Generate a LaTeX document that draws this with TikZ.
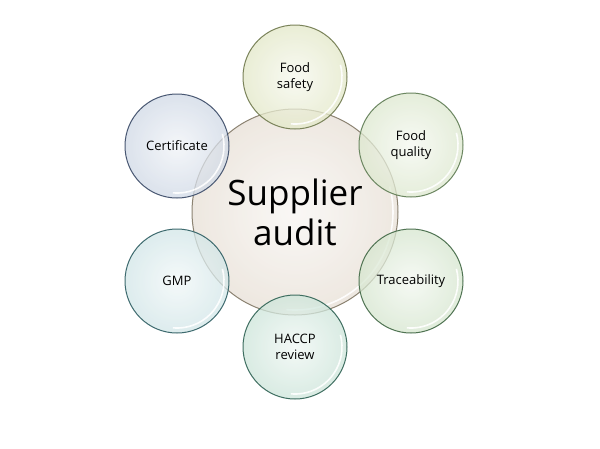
\documentclass[tikz,border=0pt]{standalone}
\usepackage{fontspec}
\setmainfont{Open Sans}

\definecolor{auditfill}{HTML}{E8E0D6}
\definecolor{auditline}{HTML}{8C8372}
\definecolor{safetyfill}{HTML}{E3E8C8}
\definecolor{safetyline}{HTML}{7A835A}
\definecolor{qualityfill}{HTML}{DDE8CF}
\definecolor{qualityline}{HTML}{6B8660}
\definecolor{tracefill}{HTML}{D6E6CF}
\definecolor{traceline}{HTML}{4F7352}
\definecolor{haccpfill}{HTML}{CDE5DA}
\definecolor{haccpline}{HTML}{3E6E60}
\definecolor{gmpfill}{HTML}{D2E6E8}
\definecolor{gmpline}{HTML}{3D6A6E}
\definecolor{certfill}{HTML}{D0D9E6}
\definecolor{certline}{HTML}{485772}

\begin{document}
\begin{tikzpicture}[x=1pt, y=-1pt,
  glint/.style={path picture={\draw[white, line width=1.6pt, opacity=0.9]
      (path picture bounding box.center) ++(-95:#1)
      arc[start angle=-95, end angle=15, radius=#1];}},
  bubble/.style={circle, draw=#1line, line width=1pt, minimum size=104pt,
    inner sep=0pt, align=center, font=\fontsize{13}{16}\selectfont,
    shade, inner color=#1fill!30!white, outer color=#1fill,
    fill opacity=0.75, draw opacity=1, text opacity=1, glint=47pt}]
  \fill[white] (0,0) rectangle (600,448);
  \useasboundingbox (0,0) rectangle (600,448);

  \node[bubble=audit, minimum size=206pt, glint=98pt,
    font=\fontsize{35}{40}\selectfont] (SA) at (295,212) {Supplier\\audit};

  \node[bubble=safety] (FS) at (295,77) {Food\\safety};
  \node[bubble=quality] (FQ) at (411,145) {Food\\quality};
  \node[bubble=trace] (TR) at (411,281) {Traceability};
  \node[bubble=haccp] (HR) at (295,347) {HACCP\\review};
  \node[bubble=gmp] (GMP) at (177,281) {GMP};
  \node[bubble=cert] (CE) at (177,146) {Certificate};
\end{tikzpicture}
\end{document}
